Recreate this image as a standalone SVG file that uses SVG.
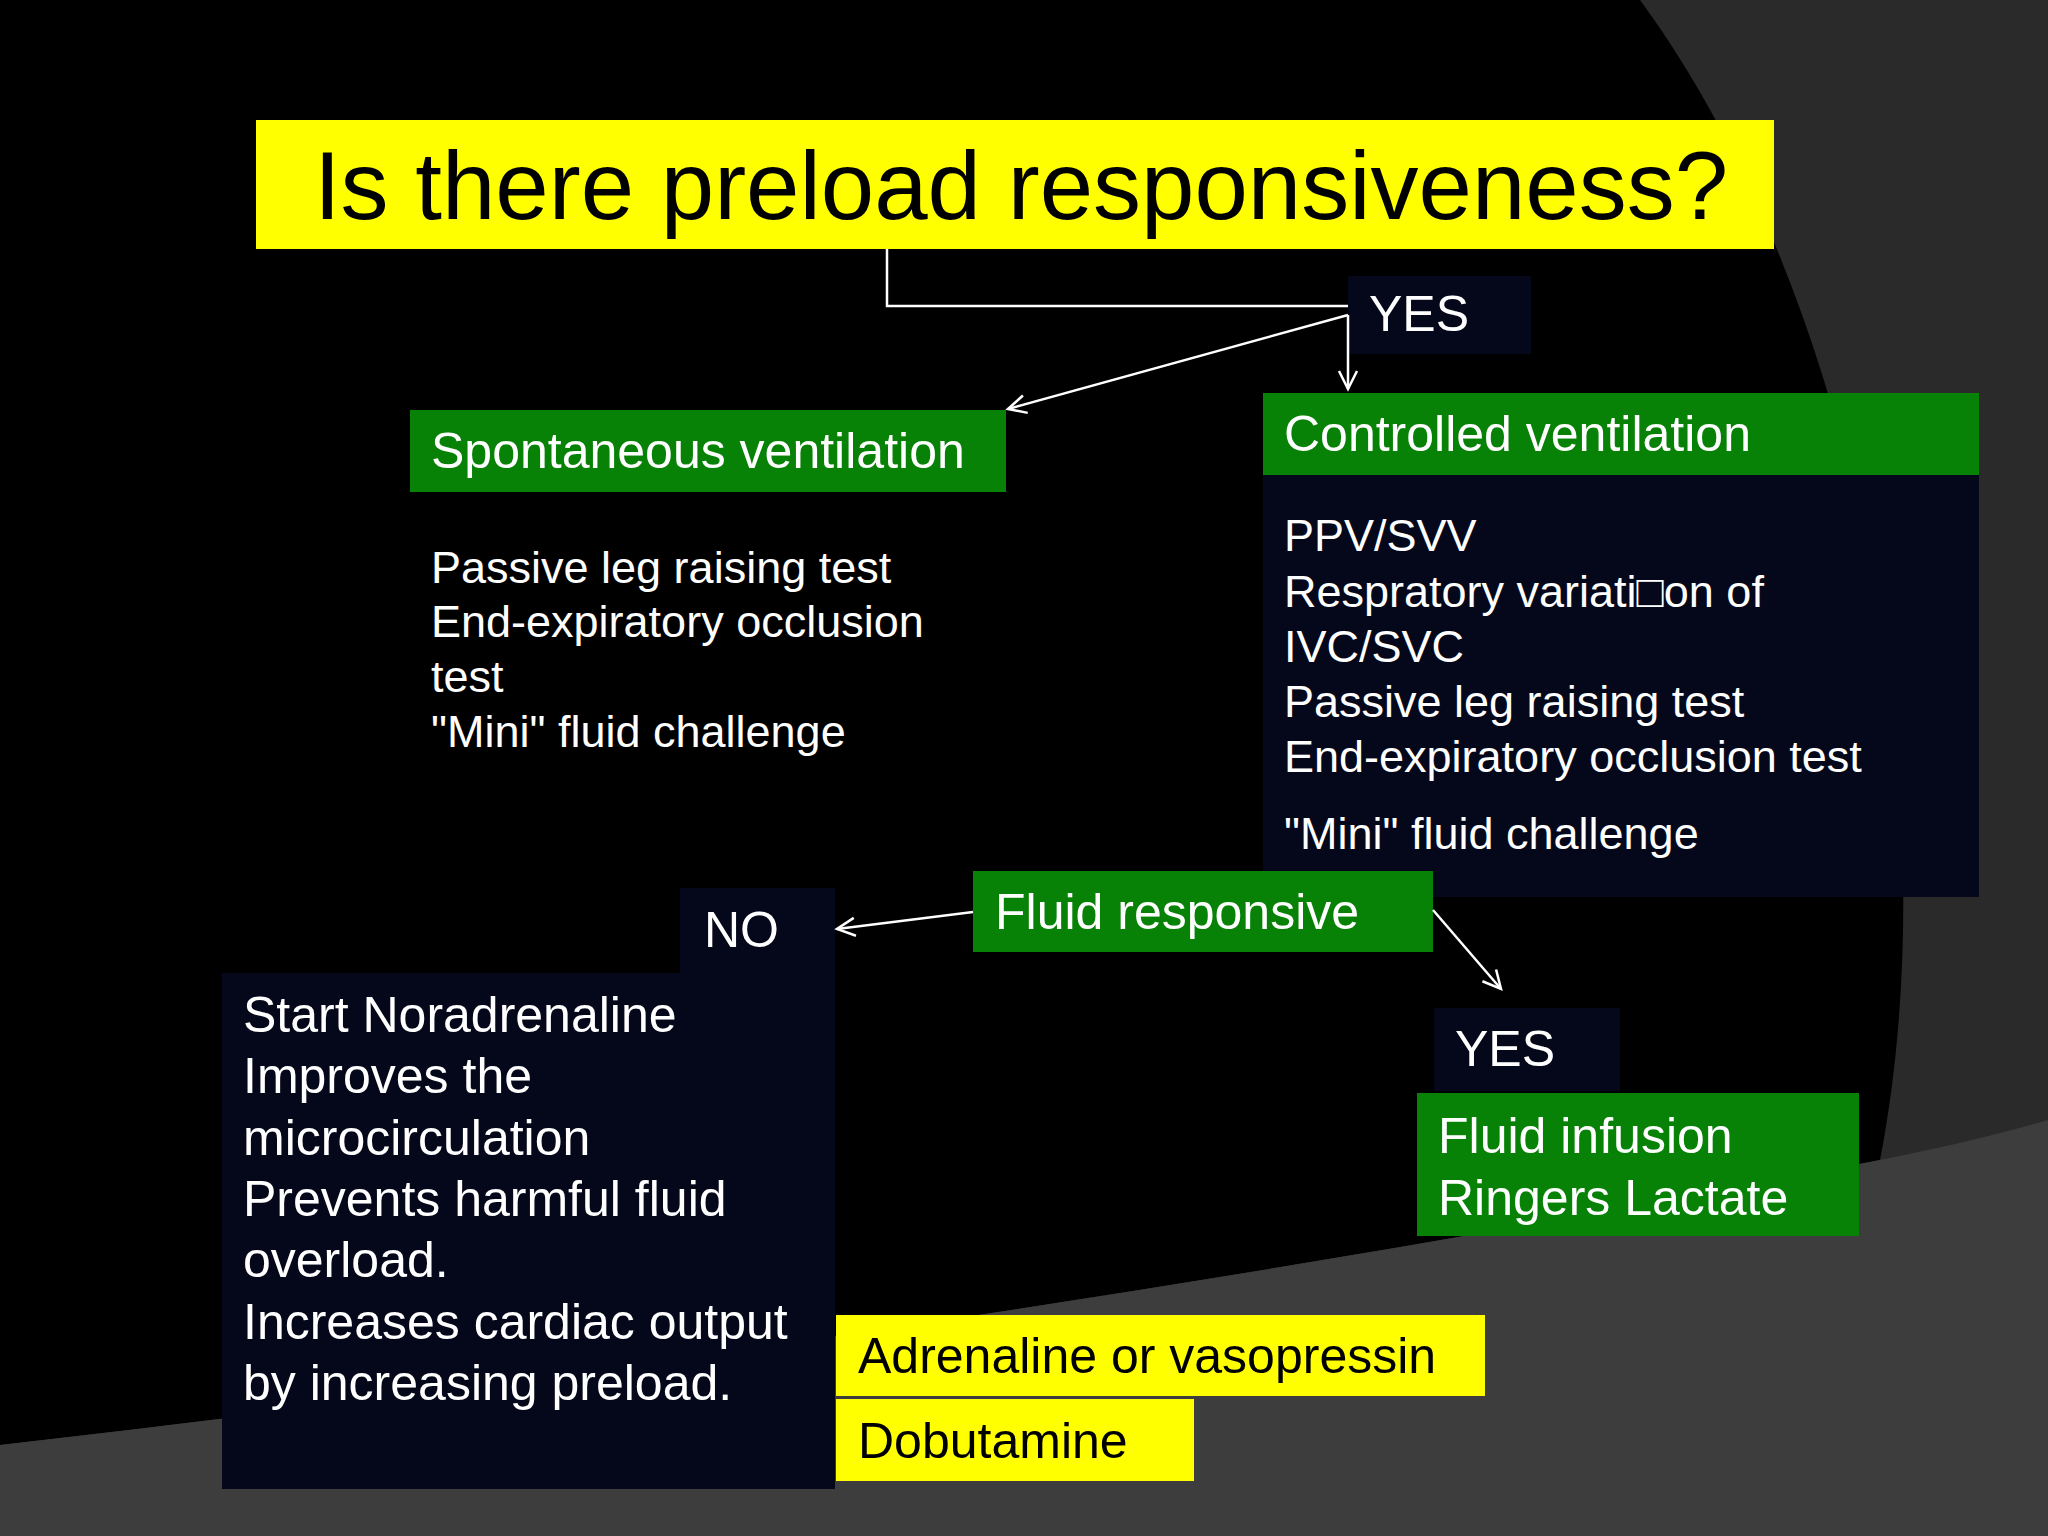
<svg xmlns="http://www.w3.org/2000/svg" width="2048" height="1536" viewBox="0 0 2048 1536">
<style>
text{font-family:"Liberation Sans",Arial,sans-serif;}
.w{fill:#fff;font-size:45px}
.wl{fill:#fff;font-size:50px}
.b{fill:#000;font-size:50px}
.green{fill:#078207}
.yel{fill:#ffff00}
.dark{fill:#05081a}
.c{stroke:#fff;stroke-width:2.5;fill:none}
</style>
<defs>
<marker id="a" markerWidth="24" markerHeight="24" refX="20" refY="12" orient="auto" markerUnits="userSpaceOnUse">
<path d="M2,3 L20,12 L2,21" fill="none" stroke="#fff" stroke-width="2.5"/>
</marker>
</defs>
<rect width="2048" height="1536" fill="#2a2a2a"/>
<path d="M0,0 H1640 C1860,300 1950,800 1880,1160 Q1000,1330 0,1445 Z" fill="#000"/>
<path d="M0,1445 Q1000,1330 1880,1160 Q1980,1140 2048,1120 V1536 H0 Z" fill="#3d3d3d"/>
<g id="title"><rect x="256" y="120" width="1518" height="129" class="yel"/><text x="1021" y="219" text-anchor="middle" style="font-size:96px" fill="#000">Is there preload responsiveness?</text></g>
<g id="yes1"><rect x="1348" y="276" width="183" height="78" class="dark"/><text x="1369" y="331" class="wl">YES</text></g>
<g id="spont"><rect x="410" y="410" width="596" height="82" class="green"/><text x="431" y="468" class="wl">Spontaneous ventilation</text></g>
<g id="spontlist"><text class="w" x="431"><tspan x="431" y="583">Passive leg raising test</tspan><tspan x="431" y="637">End-expiratory occlusion</tspan><tspan x="431" y="692">test</tspan><tspan x="431" y="747">"Mini" fluid challenge</tspan></text></g>
<g id="controlled"><rect x="1263" y="475" width="716" height="422" class="dark"/><rect x="1263" y="393" width="716" height="82" class="green"/><text x="1284" y="451" class="wl">Controlled ventilation</text>
<text class="w"><tspan x="1284" y="551">PPV/SVV</tspan><tspan x="1284" y="607">Respratory variati□on of</tspan><tspan x="1284" y="662">IVC/SVC</tspan><tspan x="1284" y="717">Passive leg raising test</tspan><tspan x="1284" y="772">End-expiratory occlusion test</tspan><tspan x="1284" y="849">"Mini" fluid challenge</tspan></text></g>
<g id="fluidresp"><rect x="973" y="871" width="460" height="81" class="green"/><text x="995" y="929" class="wl">Fluid responsive</text></g>
<g id="no"><rect x="680" y="888" width="155" height="85" class="dark"/><text x="704" y="947" class="wl">NO</text></g>
<g id="nolist"><rect x="222" y="973" width="613" height="516" class="dark"/><text class="wl"><tspan x="243" y="1032">Start Noradrenaline</tspan><tspan x="243" y="1093">Improves the</tspan><tspan x="243" y="1155">microcirculation</tspan><tspan x="243" y="1216">Prevents harmful fluid</tspan><tspan x="243" y="1277">overload.</tspan><tspan x="243" y="1339">Increases cardiac output</tspan><tspan x="243" y="1400">by increasing preload.</tspan></text></g>
<g id="yes2"><rect x="1434" y="1008" width="186" height="83" class="dark"/><text x="1455" y="1066" class="wl">YES</text></g>
<g id="infusion"><rect x="1417" y="1093" width="442" height="143" class="green"/><text class="wl"><tspan x="1438" y="1153">Fluid infusion</tspan><tspan x="1438" y="1215">Ringers Lactate</tspan></text></g>
<g id="adrenaline"><rect x="836" y="1315" width="649" height="81" class="yel"/><text x="858" y="1373" class="b">Adrenaline or vasopressin</text></g>
<g id="dobutamine"><rect x="836" y="1399" width="358" height="82" class="yel"/><text x="858" y="1458" class="b">Dobutamine</text></g>
<g id="connectors">
<path class="c" d="M887,249 V306 H1348"/>
<path class="c" d="M1348,315 V389" marker-end="url(#a)"/>
<path class="c" d="M1348,315 L1008,409" marker-end="url(#a)"/>
<path class="c" d="M973,912 L837,929" marker-end="url(#a)"/>
<path class="c" d="M1433,910 L1501,989" marker-end="url(#a)"/>
</g>
</svg>
